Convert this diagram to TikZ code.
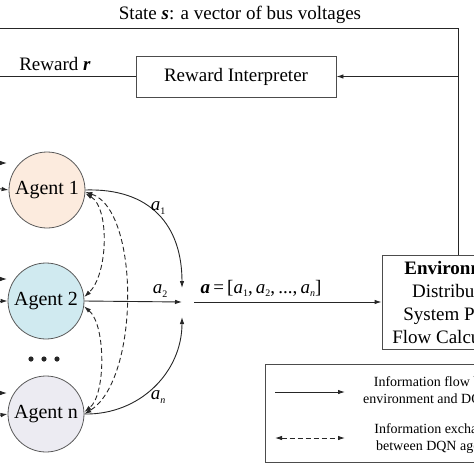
\documentclass[tikz,border=0pt]{standalone}
\usepackage{fontspec}
\setmainfont{Liberation Serif}
\usetikzlibrary{arrows.meta}
\definecolor{agA}{RGB}{252,235,222}
\definecolor{agB}{RGB}{208,234,240}
\definecolor{agC}{RGB}{236,235,242}
\newcommand{\subx}[1]{\raisebox{-0.35ex}{\fontsize{10}{10}\selectfont #1}}
\begin{document}
\begin{tikzpicture}[x=1pt,y=-1pt,
  line/.style={line width=0.9pt, draw=black!85},
  arr/.style={line, -{Latex[length=7pt,width=4.5pt]}},
  darr/.style={line, dash pattern=on 5pt off 3pt, {Latex[length=7pt,width=4.5pt]}-{Latex[length=7pt,width=4.5pt]}},
  agent/.style={circle, draw=black!65, line width=0.8pt, minimum size=76pt, inner sep=0pt, font=\fontsize{20}{24}\selectfont},
  boxed/.style={draw=black!70, line width=0.9pt, inner sep=0pt},
  lbl/.style={font=\fontsize{19}{23}\selectfont, inner sep=0pt},
  small/.style={font=\fontsize{14}{17}\selectfont, inner sep=0pt, align=center}
]
\useasboundingbox (0,0) rectangle (474,474);
\clip (0,0) rectangle (474,474);

% texts and boxes
\node[lbl] (state) at (240,15) {State \textbf{\textit{s}}: a vector of bus voltages};
\node[boxed, lbl, minimum width=200pt, minimum height=41pt] (ri) at (236,76.5) {Reward Interpreter};
\node[lbl] (rew) at (55,64) {Reward \textbf{\textit{r}}};
\node[boxed, lbl, minimum width=152pt, minimum height=94pt, align=center] (env) at (458,302)
  {\textbf{Environment}\\Distribution\\System Power\\Flow Calculation};

% agents
\node[agent, fill=agA] (ag1) at (47,190) {Agent 1};
\node[agent, fill=agB] (ag2) at (46,301) {Agent 2};
\node[agent, fill=agC] (agn) at (46,414) {Agent n};
\foreach \x in {31,44,57} \fill[black!85] (\x,359) circle (2.6pt);

% coordinates
\coordinate (topl) at (-5,28);
\coordinate (topr) at (458,28);
\coordinate (tap) at (458,76.5);
\coordinate (rewl) at (-5,76.5);
\coordinate (c1) at (182,288);
\coordinate (c2) at (182,302);
\coordinate (c3) at (182,317);
\coordinate (out) at (194,302);
\coordinate (i1a) at (-5,163); \coordinate (e1a) at (7,163);
\coordinate (i1b) at (-5,188);
\coordinate (i2a) at (-5,279); \coordinate (e2a) at (7,279);
\coordinate (i2b) at (-5,301);
\coordinate (ina) at (-5,393); \coordinate (ena) at (7,393);
\coordinate (inb) at (-5,416);

% feedback lines
\draw[line] (topl) -- (topr) -- (env.north);
\draw[arr] (tap) -- (ri.east);
\draw[line] (ri.west) -- (rewl);

% inputs to agents
\draw[arr] (i1a) -- (e1a);
\draw[arr] (i1b) -- (ag1.west);
\draw[arr] (i2a) -- (e2a);
\draw[arr] (i2b) -- (ag2.west);
\draw[arr] (ina) -- (ena);
\draw[arr] (inb) -- (agn.west);

% actions
\draw[arr] (ag1.east) .. controls (150,188) and (182,225) .. (c1);
\draw[arr] (ag2.east) -- (c2);
\draw[arr] (agn.east) .. controls (140,415) and (182,372) .. (c3);
\node[lbl] (a1) at (158,208) {\textit{a}\subx{1}};
\node[lbl] (a2) at (160,291) {\textit{a}\subx{2}};
\node[lbl] (an) at (158,397) {\textit{a}\subx{\textit{n}}};
\draw[arr] (out) -- (env.west);
\node[lbl] (avec) at (261,288) {\textbf{\textit{a}}\,=\,[\textit{a}\subx{1},\,\textit{a}\subx{2},\,...,\,\textit{a}\subx{\textit{n}}]};

% information exchange between agents
\draw[darr] (ag1.-5) .. controls (110,208) and (108,275) .. (ag2.6);
\draw[darr] (ag2.-8) .. controls (106,325) and (106,395) .. (agn.3);
\draw[darr] (ag1.-3) .. controls (140,210) and (140,380) .. (agn.0);

% legend
\node[boxed, anchor=north west, minimum width=240pt, minimum height=98pt] (leg) at (265,364) {};
\coordinate (l1s) at (275,392); \coordinate (l1e) at (345,392);
\coordinate (l2s) at (275,438); \coordinate (l2e) at (345,438);
\draw[arr] (l1s) -- (l1e);
\draw[darr] (l2s) -- (l2e);
\node[small] (t1) at (447,391.5) {Information flow between\\environment and DQN agents};
\node[small] (t2) at (436,438.5) {Information exchange\\between DQN agents};
\end{tikzpicture}
\end{document}
